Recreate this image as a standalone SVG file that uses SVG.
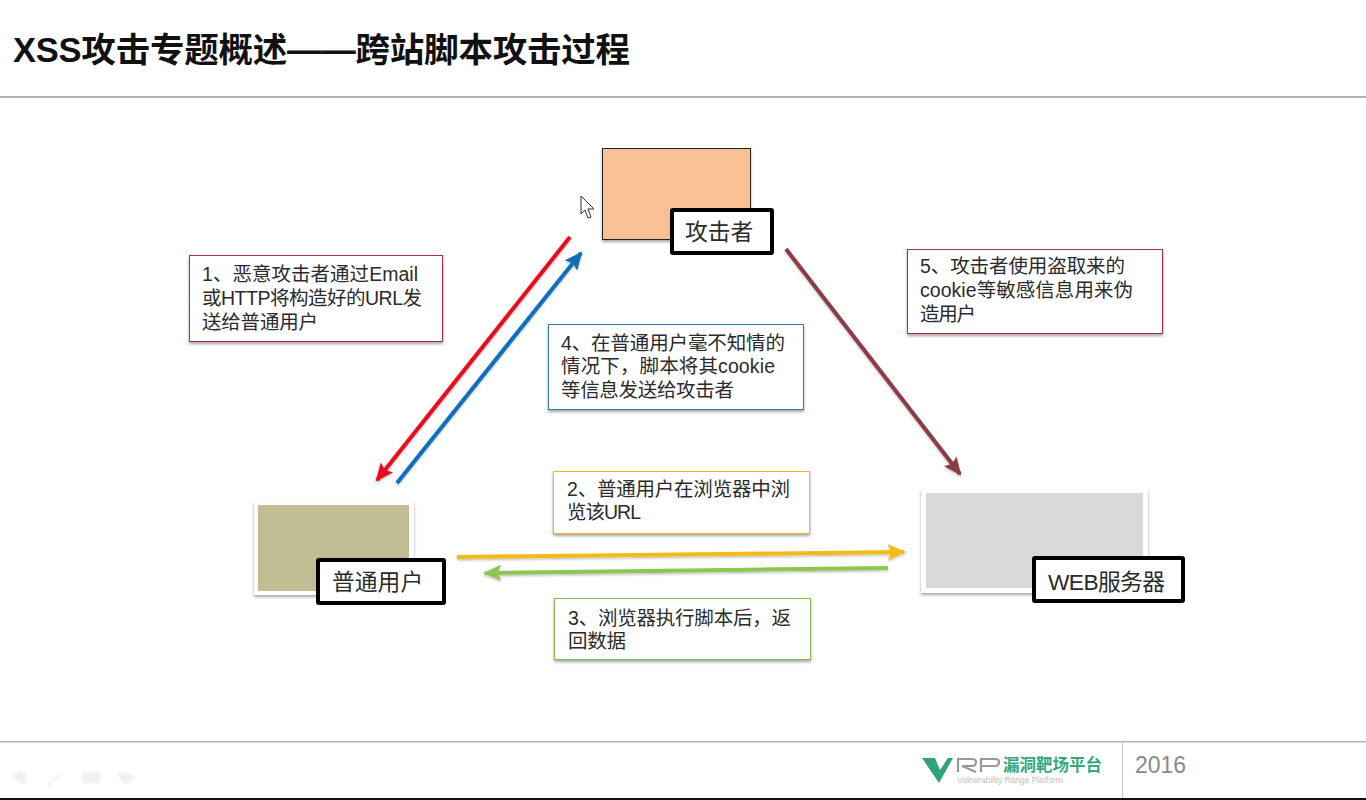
<svg xmlns="http://www.w3.org/2000/svg" width="1366" height="800" viewBox="0 0 1366 800">
<style>
text{font-family:"Liberation Sans","Noto Sans CJK SC",sans-serif;fill:#2b2b2b}
.note{font-size:19.5px}
.lab{font-size:22.800px}
.box{fill:#fff}
.lb{fill:#fff;stroke:#000;stroke-width:4px}
.cn{fill:none;stroke-width:4px}
</style>
<defs>
<filter id="sh" x="-10%" y="-10%" width="120%" height="125%"><feDropShadow dx="0" dy="2" stdDeviation="1.5" flood-color="#000" flood-opacity=".35"/></filter>
<filter id="ls" filterUnits="userSpaceOnUse" x="0" y="0" width="1366" height="800"><feDropShadow dx="0" dy="1.500" stdDeviation="1" flood-color="#000" flood-opacity=".25"/></filter>
<filter id="bl" filterUnits="userSpaceOnUse" x="0" y="740" width="200" height="60"><feGaussianBlur stdDeviation="1.200"/></filter>
<marker id="mr" markerUnits="userSpaceOnUse" markerWidth="19" markerHeight="16" refX="16" refY="8" orient="auto"><path d="M0 0L18 8L0 16L3 8Z" fill="#e8101e"/></marker>
<marker id="mb" markerUnits="userSpaceOnUse" markerWidth="19" markerHeight="16" refX="16" refY="8" orient="auto"><path d="M0 0L18 8L0 16L3 8Z" fill="#0f6fb8"/></marker>
<marker id="mm" markerUnits="userSpaceOnUse" markerWidth="19" markerHeight="16" refX="16" refY="8" orient="auto"><path d="M0 0L18 8L0 16L3 8Z" fill="#8c3a46"/></marker>
<marker id="my" markerUnits="userSpaceOnUse" markerWidth="19" markerHeight="16" refX="16" refY="8" orient="auto"><path d="M0 0L18 8L0 16L3 8Z" fill="#f4bb16"/></marker>
<marker id="mg" markerUnits="userSpaceOnUse" markerWidth="19" markerHeight="16" refX="16" refY="8" orient="auto"><path d="M0 0L18 8L0 16L3 8Z" fill="#8fc653"/></marker>
</defs>
<rect width="1366" height="800" fill="#fff"/>
<g id="title">
<text x="13" y="62" textLength="617" style="font-size:34.5px;font-weight:700;fill:#111">XSS攻击专题概述——跨站脚本攻击过程</text>
<rect x="0" y="96" width="1366" height="2" fill="#b4b4b4"/>
</g>
<g id="attacker">
<rect x="602.500" y="148.500" width="148" height="91" fill="#f9c193" stroke="#222" filter="url(#sh)"/>
<rect class="lb" x="672" y="210" width="100" height="43" rx="1"/>
<text class="lab" x="685" y="240">攻击者</text>
</g>
<g id="user">
<rect x="254" y="501" width="160" height="94" class="box" filter="url(#sh)"/>
<rect x="258" y="505" width="151" height="86" fill="#c2bc95"/>
<rect class="lb" x="318" y="560" width="126" height="43" rx="1"/>
<text class="lab" x="332" y="590">普通用户</text>
</g>
<g id="server">
<rect x="921" y="489" width="227" height="104" class="box" filter="url(#sh)"/>
<rect x="926" y="493" width="217" height="95" fill="#d9d9d9"/>
<rect class="lb" x="1034" y="558" width="149" height="43" rx="1"/>
<text class="lab" x="1048" y="590" textLength="117">WEB服务器</text>
</g>
<g id="connectors" filter="url(#ls)">
<path class="cn" stroke="#e8101e" d="M570 237L377 480" marker-end="url(#mr)"/>
<path class="cn" stroke="#0f6fb8" d="M397 483L581 253" marker-end="url(#mb)"/>
<path class="cn" stroke="#8c3a46" d="M786 249L960 474" marker-end="url(#mm)"/>
<path class="cn" stroke="#f4bb16" d="M457 557L904 552" marker-end="url(#my)"/>
<path class="cn" stroke="#8fc653" d="M888 568L485 573" marker-end="url(#mg)"/>
</g>
<g id="note1">
<rect x="189.500" y="255.500" width="253" height="86" class="box" stroke="#a8323e" filter="url(#sh)"/>
<text class="note" x="202" y="281" textLength="216">1、恶意攻击者通过Email</text>
<text class="note" x="202" y="305" textLength="220">或HTTP将构造好的URL发</text>
<text class="note" x="202" y="329" textLength="116">送给普通用户</text>
</g>
<g id="note4">
<rect x="548.500" y="324.500" width="255" height="85" class="box" stroke="#2f7f9e" filter="url(#sh)"/>
<text class="note" x="561" y="350" textLength="224">4、在普通用户毫不知情的</text>
<text class="note" x="561" y="373" textLength="214">情况下，脚本将其cookie</text>
<text class="note" x="561" y="397" textLength="173">等信息发送给攻击者</text>
</g>
<g id="note5">
<rect x="907.500" y="249.500" width="255" height="84" class="box" stroke="#a8323e" filter="url(#sh)"/>
<text class="note" x="920" y="273" textLength="205">5、攻击者使用盗取来的</text>
<text class="note" x="920" y="297" textLength="213">cookie等敏感信息用来伪</text>
<text class="note" x="920" y="321" textLength="56">造用户</text>
</g>
<g id="note2">
<rect x="553.500" y="471.500" width="256" height="62" class="box" stroke="#f0b81e" filter="url(#sh)"/>
<text class="note" x="567" y="496" textLength="223">2、普通用户在浏览器中浏</text>
<text class="note" x="567" y="519" textLength="74">览该URL</text>
</g>
<g id="note3">
<rect x="554.500" y="598.500" width="256" height="61" class="box" stroke="#82bb4c" filter="url(#sh)"/>
<text class="note" x="568" y="625" textLength="223">3、浏览器执行脚本后，返</text>
<text class="note" x="568" y="648" textLength="58">回数据</text>
</g>
<path id="cursor" d="M581 196V214L585 210L588 218L591 217L588 209L594 209Z" fill="#fff" stroke="#333" stroke-width="1"/>
<g id="footer">
<rect x="0" y="741" width="1366" height="1.500" fill="#b4b4b4"/>
<rect x="1122" y="742" width="1" height="56" fill="#ccc"/>
<rect x="0" y="798" width="1366" height="2" fill="#111"/>
<path d="M922 758H935L940 770L948 758H953L939 783Z" fill="#2fa37a"/>
<path d="M958 772V759H972Q976 759 976 762Q976 766 972 766H962L976 772M981 772V759H995Q999 759 999 762Q999 766 995 766H982" fill="none" stroke="#999" stroke-width="2.200"/>
<text x="1003" y="771" style="font-size:16.500px;font-weight:700;fill:#35a87c">漏洞靶场平台</text>
<text x="957" y="783" style="font-size:8.400px;fill:#c0c0c0">Vulnerability Range Platform</text>
<text x="1135" y="773" style="font-size:23px;fill:#8a8a8a">2016</text>
<g fill="#f1f1f1" filter="url(#bl)"><path d="M11 776L20 771L26 774V783L20 783Z"/><path d="M47 785L62 771L63 772L49 786Z"/><rect x="82" y="772" width="18" height="11"/><path d="M117 773H128L135 777L128 784L122 782Z"/></g>
</g>
</svg>
